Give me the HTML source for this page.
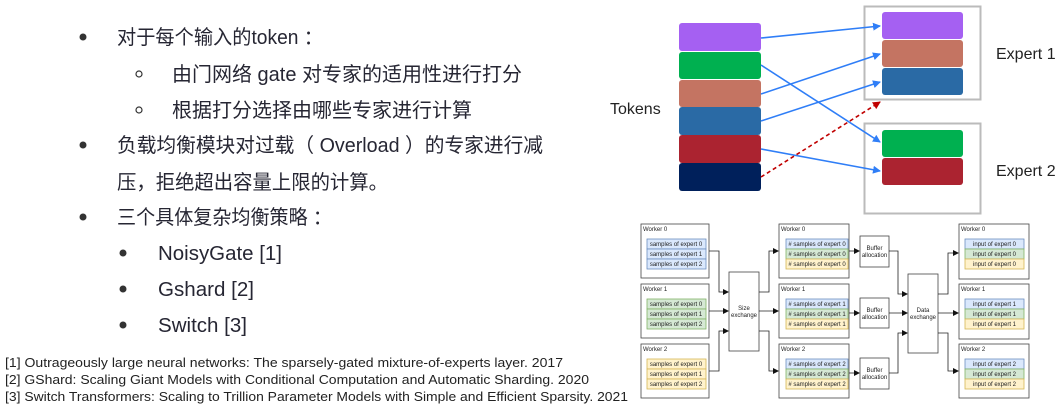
<!DOCTYPE html>
<html><head><meta charset="utf-8"><style>
body{margin:0;background:#fff;}
svg{display:block;font-family:"Liberation Sans","Noto Sans CJK SC",sans-serif;}
</style></head><body>
<svg width="1062" height="409" viewBox="0 0 1062 409" xmlns="http://www.w3.org/2000/svg">
<defs>
<marker id="ab" markerWidth="8" markerHeight="8" refX="7" refY="4" orient="auto" markerUnits="userSpaceOnUse"><path d="M0,0 L8,4 L0,8 z" fill="#2f7ef7"/></marker>
<marker id="ar" markerWidth="8" markerHeight="8" refX="7" refY="4" orient="auto" markerUnits="userSpaceOnUse"><path d="M0,0 L8,4 L0,8 z" fill="#c00000"/></marker>
<marker id="ak" markerWidth="6" markerHeight="6" refX="5" refY="3" orient="auto" markerUnits="userSpaceOnUse"><path d="M0,0 L6,3 L0,6 z" fill="#111"/></marker>
</defs>
<!-- left text -->
<g fill="#262633" font-size="20">
<circle cx="83" cy="37" r="3.5" fill="#333"/>
<text x="117" y="44" textLength="206" lengthAdjust="spacingAndGlyphs">对于每个输入的token ：</text>
<circle cx="139" cy="74" r="3" fill="none" stroke="#333" stroke-width="1.2"/>
<text x="172" y="81" textLength="350" lengthAdjust="spacingAndGlyphs">由门网络 gate 对专家的适用性进行打分</text>
<circle cx="139" cy="110" r="3" fill="none" stroke="#333" stroke-width="1.2"/>
<text x="172" y="117" textLength="300" lengthAdjust="spacingAndGlyphs">根据打分选择由哪些专家进行计算</text>
<circle cx="83" cy="145" r="3.5" fill="#333"/>
<text x="117" y="152" textLength="426" lengthAdjust="spacingAndGlyphs">负载均衡模块对过载（ Overload ）的专家进行减</text>
<text x="117" y="189" textLength="271" lengthAdjust="spacingAndGlyphs">压，拒绝超出容量上限的计算。</text>
<circle cx="83" cy="217" r="3.5" fill="#333"/>
<text x="117" y="224" textLength="215" lengthAdjust="spacingAndGlyphs">三个具体复杂均衡策略 ：</text>
<circle cx="123" cy="253" r="3.5" fill="#333"/>
<text x="158" y="260" textLength="124" lengthAdjust="spacingAndGlyphs">NoisyGate [1]</text>
<circle cx="123" cy="289" r="3.5" fill="#333"/>
<text x="158" y="296" textLength="96" lengthAdjust="spacingAndGlyphs">Gshard [2]</text>
<circle cx="123" cy="325" r="3.5" fill="#333"/>
<text x="158" y="332" textLength="89" lengthAdjust="spacingAndGlyphs">Switch [3]</text>
</g>
<g fill="#222" font-size="13">
<text x="5" y="367" textLength="558" lengthAdjust="spacingAndGlyphs">[1] Outrageously large neural networks: The sparsely-gated mixture-of-experts layer. 2017</text>
<text x="5" y="384" textLength="584" lengthAdjust="spacingAndGlyphs">[2] GShard: Scaling Giant Models with Conditional Computation and Automatic Sharding. 2020</text>
<text x="5" y="401" textLength="623" lengthAdjust="spacingAndGlyphs">[3] Switch Transformers: Scaling to Trillion Parameter Models with Simple and Efficient Sparsity. 2021</text>
</g>
<!-- top diagram -->
<text x="610" y="114" font-size="16" fill="#222">Tokens</text>
<text x="996" y="59" font-size="16" fill="#222">Expert 1</text>
<text x="996" y="176" font-size="16" fill="#222">Expert 2</text>
<rect x="864.5" y="6.5" width="116" height="93" fill="none" stroke="#bbb" stroke-width="2"/>
<rect x="864.5" y="123.5" width="116" height="90" fill="none" stroke="#bbb" stroke-width="2"/>
<g>
<rect x="679" y="23" width="82" height="28" rx="3" fill="#a560f2"/>
<rect x="679" y="52" width="82" height="27" rx="3" fill="#00b050"/>
<rect x="679" y="80" width="82" height="27" rx="3" fill="#c47462"/>
<rect x="679" y="107" width="82" height="28" rx="3" fill="#2a6aa5"/>
<rect x="679" y="135" width="82" height="28" rx="3" fill="#ab2330"/>
<rect x="679" y="163" width="82" height="28" rx="3" fill="#00205b"/>
<rect x="882" y="12" width="81" height="27" rx="3" fill="#a560f2"/>
<rect x="882" y="40" width="81" height="27" rx="3" fill="#c47462"/>
<rect x="882" y="68" width="81" height="27" rx="3" fill="#2a6aa5"/>
<rect x="882" y="130" width="81" height="27" rx="3" fill="#00b050"/>
<rect x="882" y="158" width="81" height="27" rx="3" fill="#ab2330"/>
</g>
<g stroke="#2f7ef7" stroke-width="1.6" fill="none">
<line x1="761" y1="38" x2="880" y2="26" marker-end="url(#ab)"/>
<line x1="761" y1="65" x2="880" y2="142" marker-end="url(#ab)"/>
<line x1="761" y1="94" x2="880" y2="54" marker-end="url(#ab)"/>
<line x1="761" y1="121" x2="880" y2="82" marker-end="url(#ab)"/>
<line x1="761" y1="149" x2="880" y2="171" marker-end="url(#ab)"/>
</g>
<line x1="761" y1="177" x2="880" y2="102" stroke="#c00000" stroke-width="1.6" stroke-dasharray="4,3" marker-end="url(#ar)"/>
<!-- bottom diagram -->
<g font-size="6" fill="#222" stroke-width="0.8">
<rect x="641" y="224" width="68" height="54" fill="#fff" stroke="#444"/><text x="643" y="231">Worker 0</text>
<rect x="641" y="284" width="68" height="54" fill="#fff" stroke="#444"/><text x="643" y="291">Worker 1</text>
<rect x="641" y="344" width="68" height="54" fill="#fff" stroke="#444"/><text x="643" y="351">Worker 2</text>
<g text-anchor="middle">
<rect x="647" y="239" width="59" height="10" fill="#dae8fc" stroke="#6c8ebf"/><text x="676" y="246">samples of expert 0</text>
<rect x="647" y="249" width="59" height="10" fill="#dae8fc" stroke="#6c8ebf"/><text x="676" y="256">samples of expert 1</text>
<rect x="647" y="259" width="59" height="10" fill="#dae8fc" stroke="#6c8ebf"/><text x="676" y="266">samples of expert 2</text>
<rect x="647" y="299" width="59" height="10" fill="#d5e8d4" stroke="#82b366"/><text x="676" y="306">samples of expert 0</text>
<rect x="647" y="309" width="59" height="10" fill="#d5e8d4" stroke="#82b366"/><text x="676" y="316">samples of expert 1</text>
<rect x="647" y="319" width="59" height="10" fill="#d5e8d4" stroke="#82b366"/><text x="676" y="326">samples of expert 2</text>
<rect x="647" y="359" width="59" height="10" fill="#fff2cc" stroke="#d6b656"/><text x="676" y="366">samples of expert 0</text>
<rect x="647" y="369" width="59" height="10" fill="#fff2cc" stroke="#d6b656"/><text x="676" y="376">samples of expert 1</text>
<rect x="647" y="379" width="59" height="10" fill="#fff2cc" stroke="#d6b656"/><text x="676" y="386">samples of expert 2</text>
</g>
<rect x="729" y="272" width="30" height="79" fill="#fff" stroke="#444"/>
<text x="744" y="310" text-anchor="middle">Size</text><text x="744" y="317" text-anchor="middle">exchange</text>
<rect x="779" y="224" width="70" height="54" fill="#fff" stroke="#444"/><text x="781" y="231">Worker 0</text>
<rect x="779" y="284" width="70" height="54" fill="#fff" stroke="#444"/><text x="781" y="291">Worker 1</text>
<rect x="779" y="344" width="70" height="54" fill="#fff" stroke="#444"/><text x="781" y="351">Worker 2</text>
<g text-anchor="middle">
<rect x="786" y="239" width="62" height="10" fill="#dae8fc" stroke="#6c8ebf"/><text x="817" y="246"># samples of expert 0</text>
<rect x="786" y="249" width="62" height="10" fill="#d5e8d4" stroke="#82b366"/><text x="817" y="256"># samples of expert 0</text>
<rect x="786" y="259" width="62" height="10" fill="#fff2cc" stroke="#d6b656"/><text x="817" y="266"># samples of expert 0</text>
<rect x="786" y="299" width="62" height="10" fill="#dae8fc" stroke="#6c8ebf"/><text x="817" y="306"># samples of expert 1</text>
<rect x="786" y="309" width="62" height="10" fill="#d5e8d4" stroke="#82b366"/><text x="817" y="316"># samples of expert 1</text>
<rect x="786" y="319" width="62" height="10" fill="#fff2cc" stroke="#d6b656"/><text x="817" y="326"># samples of expert 1</text>
<rect x="786" y="359" width="62" height="10" fill="#dae8fc" stroke="#6c8ebf"/><text x="817" y="366"># samples of expert 2</text>
<rect x="786" y="369" width="62" height="10" fill="#d5e8d4" stroke="#82b366"/><text x="817" y="376"># samples of expert 2</text>
<rect x="786" y="379" width="62" height="10" fill="#fff2cc" stroke="#d6b656"/><text x="817" y="386"># samples of expert 2</text>
</g>
<g text-anchor="middle">
<rect x="860" y="236" width="29" height="31" fill="#fff" stroke="#444"/><text x="874.5" y="250">Buffer</text><text x="874.5" y="257">allocation</text>
<rect x="860" y="298" width="29" height="30" fill="#fff" stroke="#444"/><text x="874.5" y="312">Buffer</text><text x="874.5" y="319">allocation</text>
<rect x="860" y="358" width="29" height="31" fill="#fff" stroke="#444"/><text x="874.5" y="372">Buffer</text><text x="874.5" y="379">allocation</text>
<rect x="908" y="274" width="30" height="79" fill="#fff" stroke="#444"/><text x="923" y="312">Data</text><text x="923" y="319">exchange</text>
</g>
<rect x="959" y="224" width="70" height="55" fill="#fff" stroke="#444"/><text x="961" y="231">Worker 0</text>
<rect x="959" y="284" width="70" height="55" fill="#fff" stroke="#444"/><text x="961" y="291">Worker 1</text>
<rect x="959" y="344" width="70" height="54" fill="#fff" stroke="#444"/><text x="961" y="351">Worker 2</text>
<g text-anchor="middle">
<rect x="965" y="239" width="59" height="10" fill="#dae8fc" stroke="#6c8ebf"/><text x="994.5" y="246">input of expert 0</text>
<rect x="965" y="249" width="59" height="10" fill="#d5e8d4" stroke="#82b366"/><text x="994.5" y="256">input of expert 0</text>
<rect x="965" y="259" width="59" height="10" fill="#fff2cc" stroke="#d6b656"/><text x="994.5" y="266">input of expert 0</text>
<rect x="965" y="299" width="59" height="10" fill="#dae8fc" stroke="#6c8ebf"/><text x="994.5" y="306">input of expert 1</text>
<rect x="965" y="309" width="59" height="10" fill="#d5e8d4" stroke="#82b366"/><text x="994.5" y="316">input of expert 1</text>
<rect x="965" y="319" width="59" height="10" fill="#fff2cc" stroke="#d6b656"/><text x="994.5" y="326">input of expert 1</text>
<rect x="965" y="359" width="59" height="10" fill="#dae8fc" stroke="#6c8ebf"/><text x="994.5" y="366">input of expert 2</text>
<rect x="965" y="369" width="59" height="10" fill="#d5e8d4" stroke="#82b366"/><text x="994.5" y="376">input of expert 2</text>
<rect x="965" y="379" width="59" height="10" fill="#fff2cc" stroke="#d6b656"/><text x="994.5" y="386">input of expert 2</text>
</g>
</g>
<g stroke="#222" stroke-width="0.8" fill="none">
<path d="M709,251 H719 V292 H728" marker-end="url(#ak)"/>
<path d="M709,311 H728" marker-end="url(#ak)"/>
<path d="M709,371 H719 V331 H728" marker-end="url(#ak)"/>
<path d="M759,292 H769 V251 H778" marker-end="url(#ak)"/>
<path d="M759,311 H778" marker-end="url(#ak)"/>
<path d="M759,331 H769 V371 H778" marker-end="url(#ak)"/>
<path d="M849,251 H859" marker-end="url(#ak)"/>
<path d="M849,313 H859" marker-end="url(#ak)"/>
<path d="M849,373 H859" marker-end="url(#ak)"/>
<path d="M889,251 H898 V294 H907" marker-end="url(#ak)"/>
<path d="M889,313 H907" marker-end="url(#ak)"/>
<path d="M889,373 H898 V333 H907" marker-end="url(#ak)"/>
<path d="M938,294 H948 V253 H958" marker-end="url(#ak)"/>
<path d="M938,313 H958" marker-end="url(#ak)"/>
<path d="M938,333 H948 V371 H958" marker-end="url(#ak)"/>
</g>
</svg>
</body></html>
